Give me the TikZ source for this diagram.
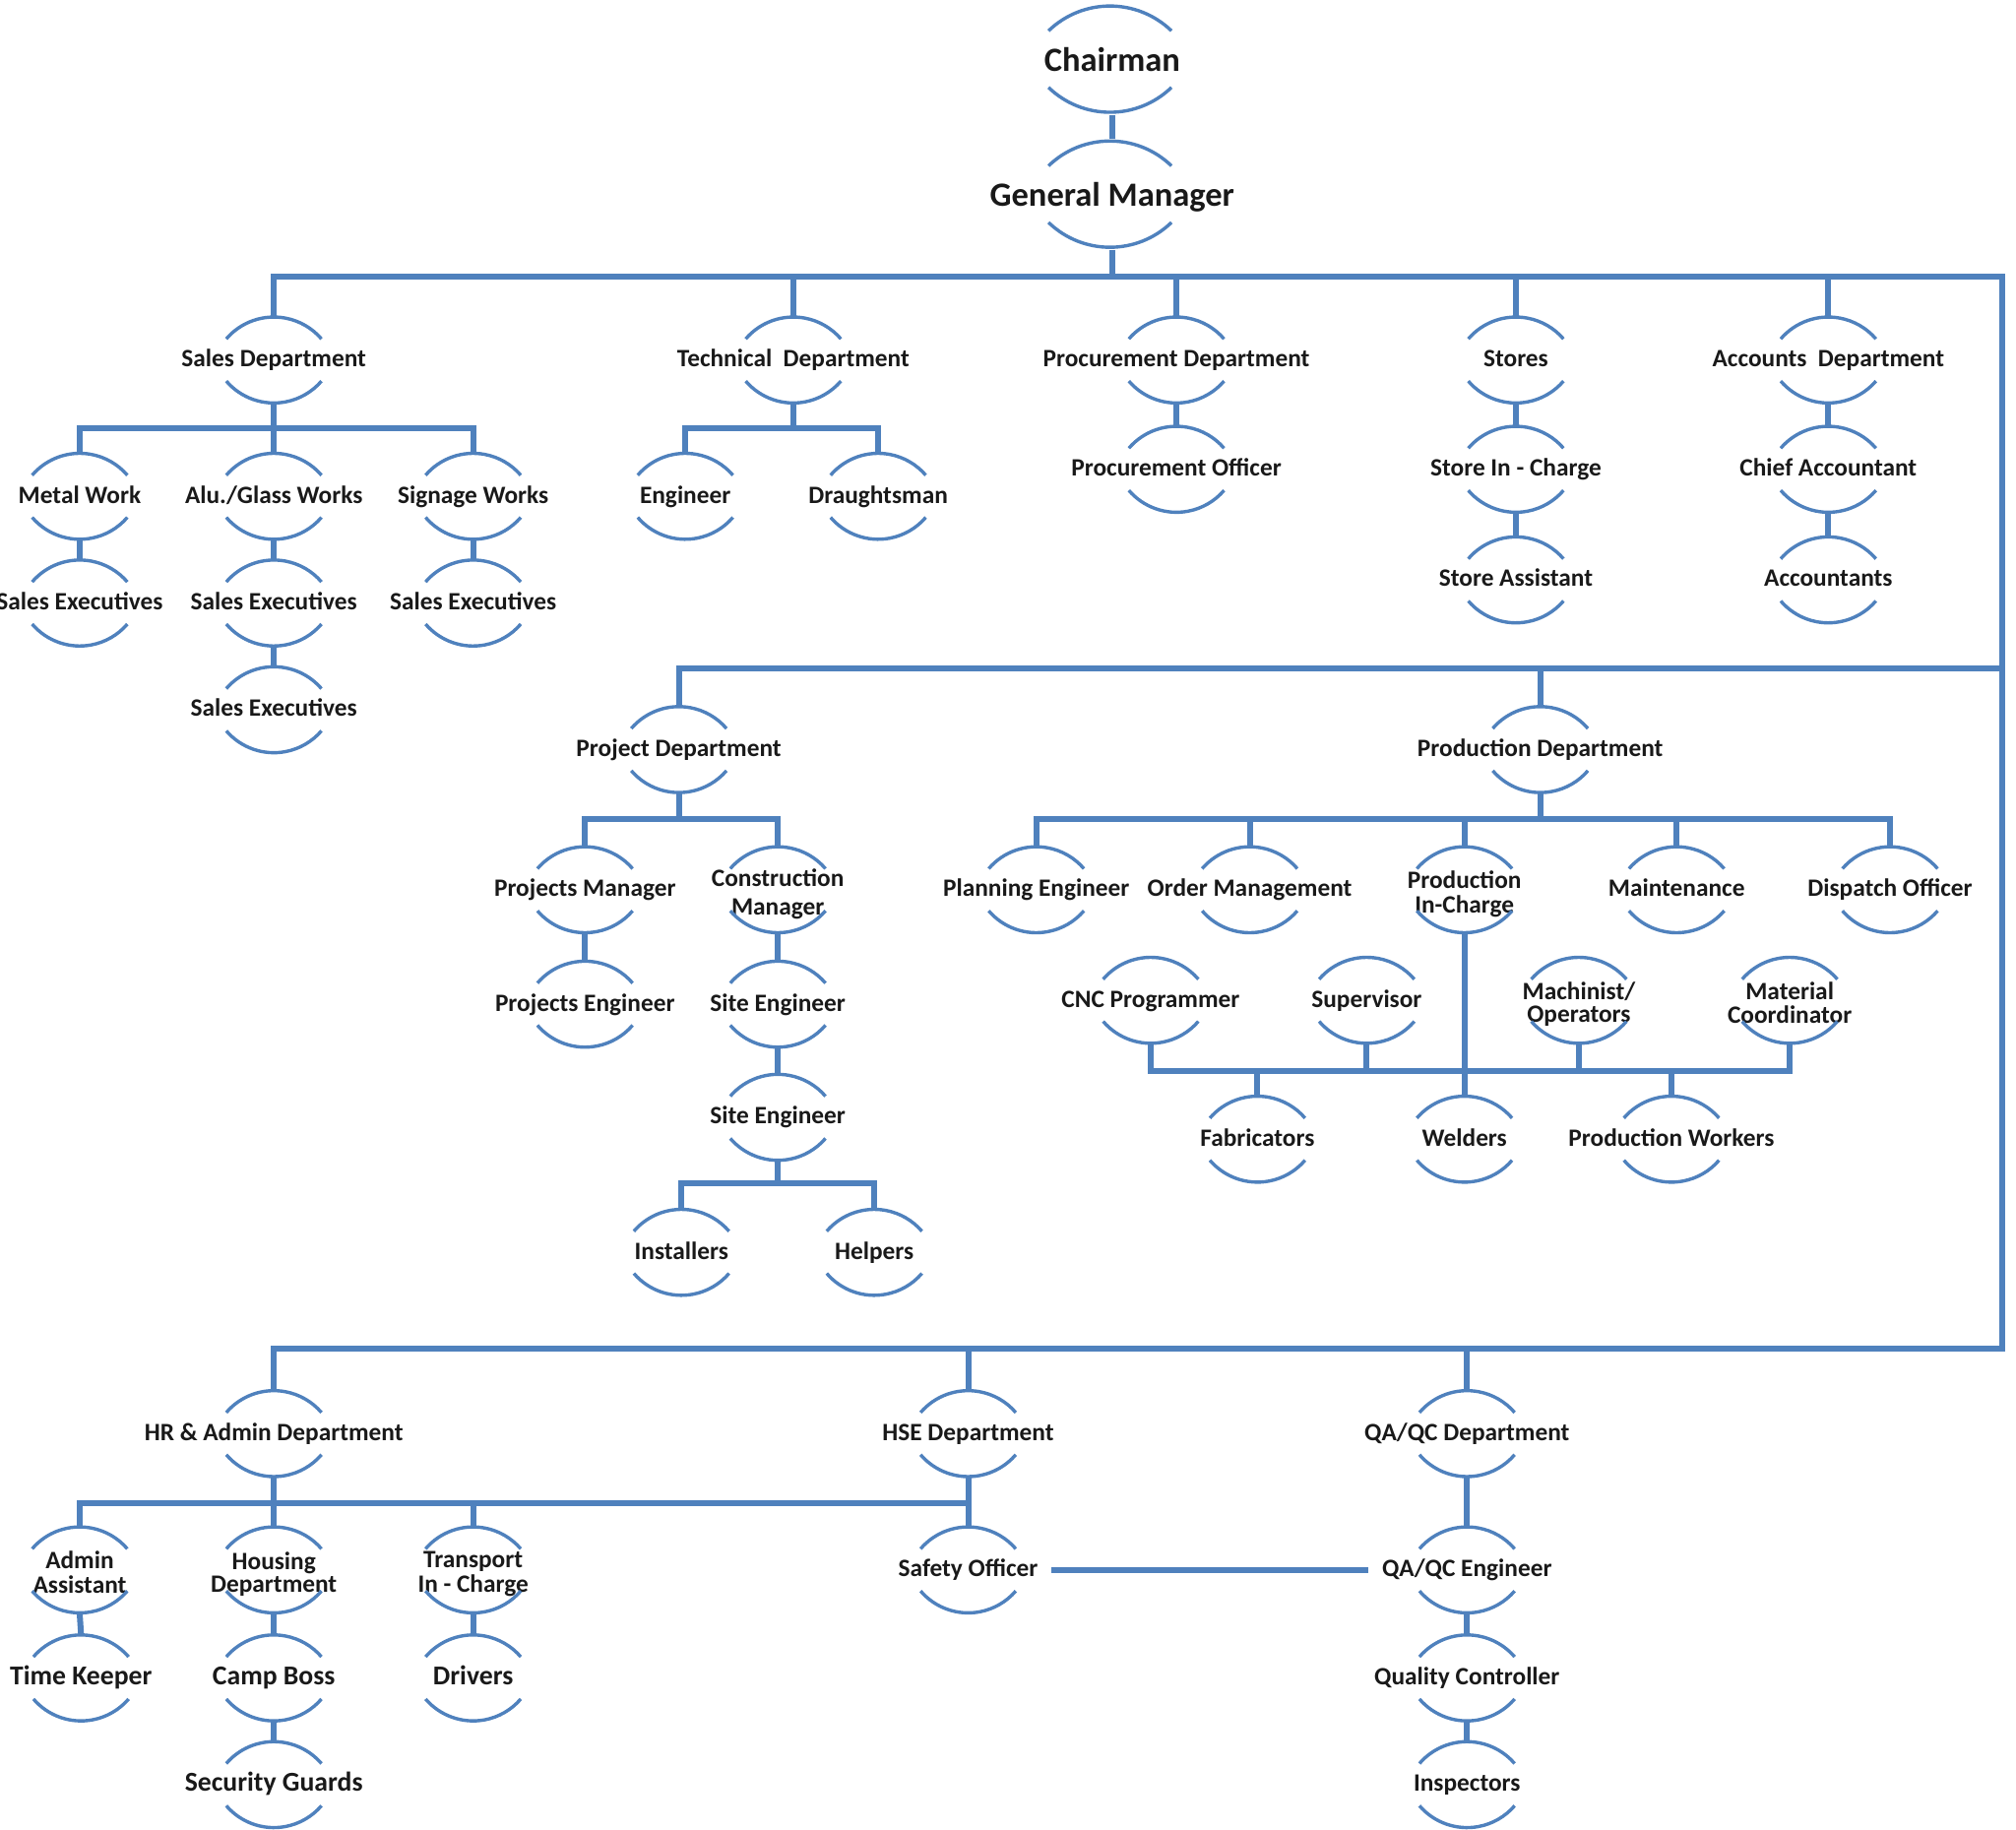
\documentclass[tikz,border=0pt]{standalone}
\usepackage{fontspec}
\setmainfont{Carlito}
\usetikzlibrary{positioning}
\definecolor{orgblue}{RGB}{79,129,189}
\definecolor{orgtext}{RGB}{25,25,25}
\newcommand{\twolines}[2]{\raisebox{-2pt}{\begin{tabular}{@{}c@{}} #1 \\ #2 \end{tabular}}}

\begin{document}
\begin{tikzpicture}[
                x=0.5pt, y=0.5pt,
                arcline/.style={draw=orgblue,line width=1.3pt},
                bus/.style={draw=orgblue,line width=2.3pt},
                unit/.style={font=\bfseries\fontsize{9.7}{8.6}\selectfont,text=orgtext,
                    text height=7.5pt,text depth=2.2pt,
                    inner xsep=5pt,inner ysep=0pt,minimum width=37pt,minimum height=34pt,
                    append after command={
                        ([shift={(-18.5pt,8.2pt)}]\tikzlastnode.center) edge[arcline,to path={arc[start angle=139.4,end angle=40.6,radius=24.38pt]}] (\tikzlastnode.center)
                        ([shift={(-18.5pt,-8.2pt)}]\tikzlastnode.center) edge[arcline,to path={arc[start angle=220.6,end angle=319.4,radius=24.38pt]}] (\tikzlastnode.center)
                    }},
                bigunit/.style={font=\bfseries\fontsize{13.2}{14}\selectfont,text=orgtext,
                    text height=11pt,text depth=1.5pt,
                    inner xsep=5pt,inner ysep=0pt,minimum width=50pt,minimum height=43pt,
                    append after command={
                        ([shift={(-24.75pt,11pt)}]\tikzlastnode.center) edge[arcline,to path={arc[start angle=134,end angle=46,radius=34.42pt]}] (\tikzlastnode.center)
                        ([shift={(-24.75pt,-11pt)}]\tikzlastnode.center) edge[arcline,to path={arc[start angle=226,end angle=314,radius=34.42pt]}] (\tikzlastnode.center)
                    }},
                bigtext/.style={font=\bfseries\fontsize{10.6}{10}\selectfont},
            ]
            \useasboundingbox (0,0) rectangle (1568,-1422.6);

            % Define nodes
            \node[bigunit] (chair) at (865,-46) {Chairman};
            \node[bigunit] (gm) at (865,-151) {General Manager};

            \node[unit] (sales) at (213,-280) {Sales Department};
            \node[unit] (tech) at (617,-280) {Technical\ \ Department};
            \node[unit] (proc) at (915,-280) {Procurement Department};
            \node[unit] (stores) at (1179,-280) {Stores};
            \node[unit] (acc) at (1422,-280) {Accounts\ \ Department};

            \node[unit] (metal) at (62,-386) {Metal Work};
            \node[unit] (alu) at (213,-386) {Alu./Glass Works};
            \node[unit] (sign) at (368,-386) {Signage Works};
            \node[unit] (se1) at (62,-469) {Sales Executives};
            \node[unit] (se2) at (213,-469) {Sales Executives};
            \node[unit] (se3) at (368,-469) {Sales Executives};
            \node[unit] (se4) at (213,-552) {Sales Executives};
            \node[unit] (eng) at (533,-386) {Engineer};
            \node[unit] (draft) at (683,-386) {Draughtsman};
            \node[unit] (procoff) at (915,-365) {Procurement Officer};
            \node[unit] (storeic) at (1179,-365) {Store In - Charge};
            \node[unit] (storeas) at (1179,-451) {Store Assistant};
            \node[unit] (chiefacc) at (1422,-365) {Chief Accountant};
            \node[unit] (accts) at (1422,-451) {Accountants};

            \node[unit] (proj) at (528,-583) {Project Department};
            \node[unit] (prod) at (1198,-583) {Production Department};

            \node[unit] (pm) at (455,-692) {Projects Manager};
            \node[unit] (cm) at (605,-692) {\twolines{Construction}{[2.5pt] Manager}};
            \node[unit] (pe) at (455,-781) {Projects Engineer};
            \node[unit] (site1) at (605,-781) {Site Engineer};
            \node[unit] (site2) at (605,-869) {Site Engineer};
            \node[unit] (inst) at (530,-974) {Installers};
            \node[unit] (help) at (680,-974) {Helpers};

            \node[unit] (plan) at (806,-692) {Planning Engineer};
            \node[unit] (order) at (972,-692) {Order Management};
            \node[unit] (pic) at (1139,-692) {\twolines{Production}{In-Charge}};
            \node[unit] (maint) at (1304,-692) {Maintenance};
            \node[unit] (disp) at (1470,-692) {Dispatch Officer};
            \node[unit] (cnc) at (895,-778) {CNC Programmer};
            \node[unit] (sup) at (1063,-778) {Supervisor};
            \node[unit] (mach) at (1228,-778) {\twolines{Machinist/}{Operators}};
            \node[unit] (mat) at (1392,-778) {\twolines{Material}{Coordinator}};
            \node[unit] (fab) at (978,-886) {Fabricators};
            \node[unit] (weld) at (1139,-886) {Welders};
            \node[unit] (pw) at (1300,-886) {Production Workers};

            \node[unit] (hr) at (213,-1115) {HR \& Admin Department};
            \node[unit] (hse) at (753,-1115) {HSE Department};
            \node[unit] (qa) at (1141,-1115) {QA/QC Department};
            \node[unit] (admin) at (62,-1221) {\twolines{Admin}{Assistant}};
            \node[unit] (housing) at (213,-1221) {\twolines{Housing}{Department}};
            \node[unit] (transport) at (368,-1221) {\twolines{Transport}{In - Charge}};
            \node[unit] (safety) at (753,-1221) {Safety Officer};
            \node[unit] (qaeng) at (1141,-1221) {QA/QC Engineer};
            \node[unit,bigtext] (tk) at (63,-1305) {Time Keeper};
            \node[unit,bigtext] (camp) at (213,-1305) {Camp Boss};
            \node[unit,bigtext] (drivers) at (368,-1305) {Drivers};
            \node[unit,bigtext] (sec) at (213,-1388) {Security Guards};
            \node[unit] (qc) at (1141,-1305) {Quality Controller};
            \node[unit] (insp) at (1141,-1388) {Inspectors};

            % Bus points
            \coordinate (top1) at (1557,-215);
            \coordinate (top2) at (1557,-520);
            \coordinate (top3) at (1557,-1049);
            \coordinate (salesbus) at (213,-333);
            \coordinate (techbus) at (617,-333);
            \coordinate (projbus) at (528,-637);
            \coordinate (prodbus) at (1198,-637);
            \coordinate (sitebus) at (605,-920);
            \coordinate (picbus) at (1139,-833);
            \coordinate (hrbus) at (213,-1169);

            % Draw connections
            \draw[bus] (chair.south) -- (gm.north);
            \draw[bus] (gm.south) -- (gm.south |- top1);
            \draw[bus] (sales.north) |- (top1) -- (top3) -| (hr.north);
            \foreach \n in {tech,proc,stores,acc} \draw[bus] (\n.north) -- (\n.north |- top1);
            \draw[bus] (top2) -| (proj.north);
            \draw[bus] (prod.north) -- (prod.north |- top2);
            \foreach \n in {hse,qa} \draw[bus] (\n.north) -- (\n.north |- top3);

            \draw[bus] (sales.south) -- (alu.north);
            \draw[bus] (metal.north) |- (salesbus) -| (sign.north);
            \draw[bus] (tech.south) -- (techbus);
            \draw[bus] (eng.north) |- (techbus) -| (draft.north);

            \draw[bus] (proj.south) -- (projbus);
            \draw[bus] (pm.north) |- (projbus) -| (cm.north);
            \draw[bus] (site2.south) -- (sitebus);
            \draw[bus] (inst.north) |- (sitebus) -| (help.north);

            \draw[bus] (prod.south) -- (prodbus);
            \draw[bus] (plan.north) |- (prodbus) -| (disp.north);
            \foreach \n in {order,pic,maint} \draw[bus] (\n.north) -- (\n.north |- prodbus);
            \draw[bus] (pic.south) -- (weld.north);
            \draw[bus] (cnc.south) |- (picbus) -| (mat.south);
            \foreach \n in {sup,mach} \draw[bus] (\n.south) -- (\n.south |- picbus);
            \foreach \n in {fab,pw} \draw[bus] (\n.north) -- (\n.north |- picbus);

            \draw[bus] (hr.south) -- (housing.north);
            \draw[bus] (admin.north) |- (hrbus) -| (hse.south);
            \draw[bus] (hse.south) -- (safety.north);
            \draw[bus] (transport.north) -- (transport.north |- hrbus);
            \draw[bus] (safety.east) -- (qaeng.west);

            \foreach \a/\b in {metal/se1,alu/se2,sign/se3,se2/se4,proc/procoff,stores/storeic,storeic/storeas,
                acc/chiefacc,chiefacc/accts,pm/pe,cm/site1,site1/site2,admin/tk,housing/camp,camp/sec,
                transport/drivers,qa/qaeng,qaeng/qc,qc/insp}
                \draw[bus] (\a.south) -- (\b.north);

            \end{tikzpicture}
\end{document}
